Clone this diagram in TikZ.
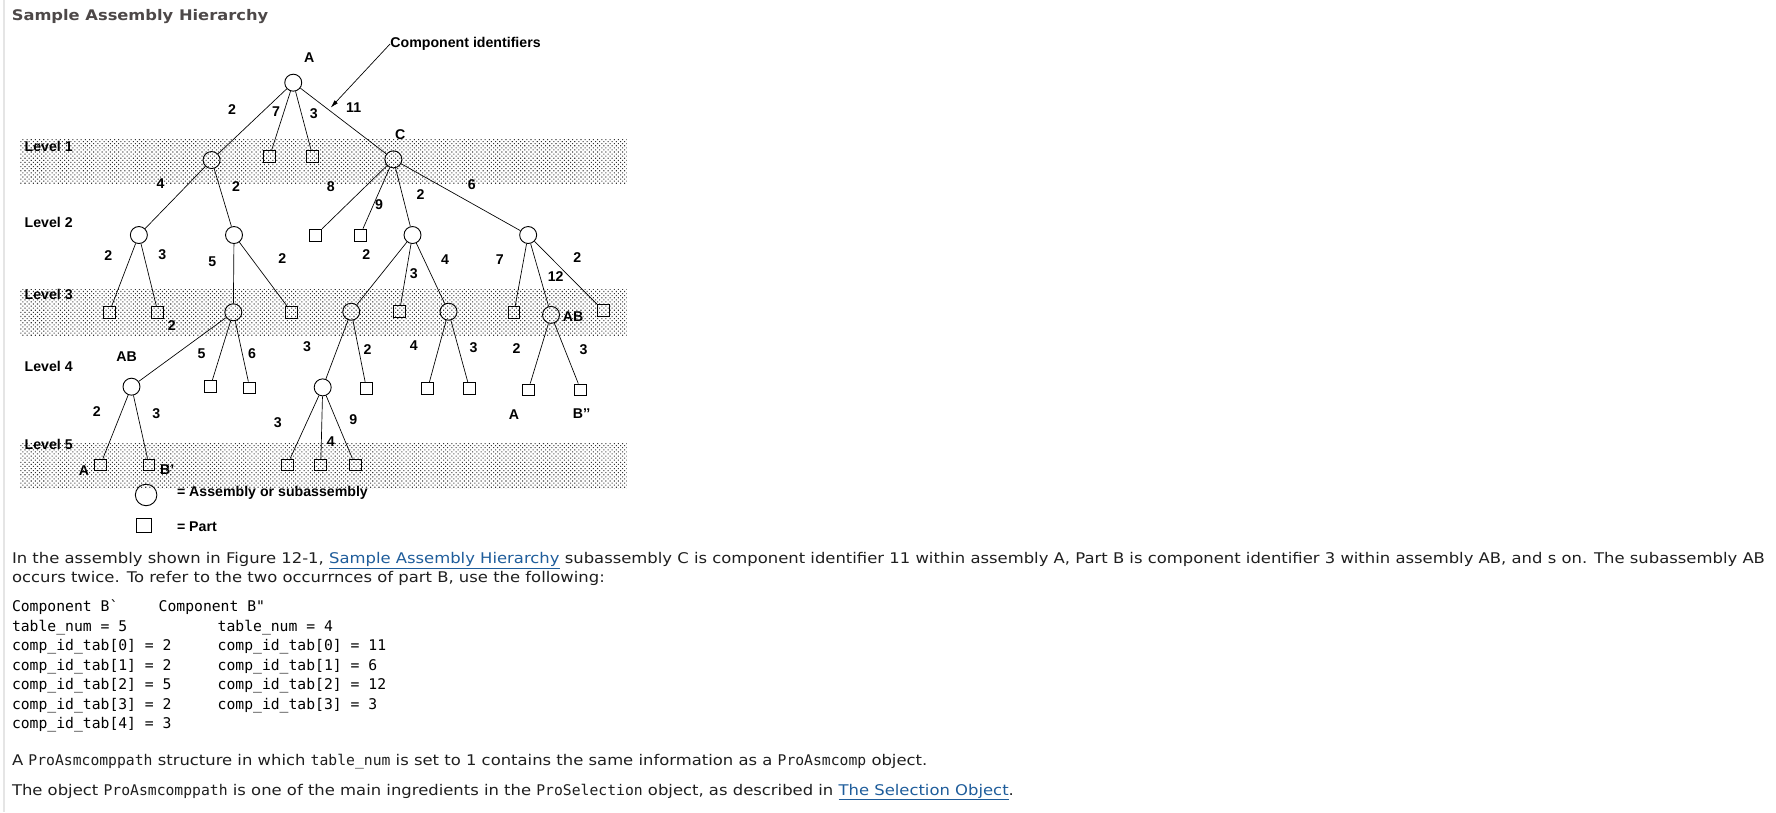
\documentclass[tikz,border=0pt]{standalone}
\usepackage{fontspec}
\setmainfont{DejaVu Sans}[FakeStretch=1.115]
\newfontfamily\figfont{Liberation Sans}
\newfontfamily\codefont{DejaVu Sans Mono}
\usetikzlibrary{patterns.meta,arrows.meta}

\definecolor{titlegray}{HTML}{4D4848}
\definecolor{linkblue}{HTML}{1F5D9B}
\newcommand{\lnk}[1]{\textcolor{linkblue}{\underline{#1}}}
\newcommand{\cd}[1]{{\codefont #1}}

\begin{document}
\begin{tikzpicture}[x=1pt, y=-1pt, line width=0.6pt,
  asm/.style={circle, draw, line width=0.8pt, minimum size=15pt, inner sep=0pt},
  part/.style={rectangle, draw, line width=0.8pt, minimum size=10.5pt, inner sep=0pt},
  lbl/.style={inner sep=0pt, font=\figfont\bfseries\fontsize{12.5}{14}\selectfont},
  lvl/.style={lbl, anchor=west},
  band/.style={pattern={Dots[distance=2.6pt, radius=0.65pt, angle=45]}, pattern color=black!80},
  body/.style={anchor=base west, inner sep=0pt, text=black!88, font=\fontsize{13}{16}\selectfont},
  code/.style={anchor=base west, inner sep=0pt, font=\codefont\fontsize{13}{16}\selectfont}]

\fill[white] (0,0) rectangle (1568,717);
\useasboundingbox (0,0) rectangle (1568,717);
\draw[black!10, line width=1.5pt] (3.5,0) -- (3.5,717);

\node[anchor=base west, inner sep=0pt, text=titlegray, font=\bfseries\fontsize{12.9}{16}\selectfont] (title) at (10.1,18.2) {Sample Assembly Hierarchy};

\fill[band] (17.3,123) rectangle (553.5,162);
\fill[band] (17.3,255.5) rectangle (553.5,296.6);
\fill[band] (17.3,390.5) rectangle (553.5,431);

\node[lvl] (lv1) at (21.5,129) {Level 1};
\node[lvl] (lv2) at (21.5,196.6) {Level 2};
\node[lvl] (lv3) at (21.5,260.4) {Level 3};
\node[lvl] (lv4) at (21.5,323.2) {Level 4};
\node[lvl] (lv5) at (21.5,392.8) {Level 5};

\node[asm] (A) at (258.9,73) {};
\node[lbl] (nA) at (273,50.6) {A};

\node[asm] (b1) at (186.8,141.3) {};
\node[part] (p1) at (238,138.3) {};
\node[part] (p2) at (276.2,138.3) {};
\node[asm] (C) at (347.3,140.7) {};
\node[lbl] (nC) at (353.4,118.6) {C};

\draw (A) -- (b1) node[lbl] (i01) at (204.8,96.5) {2};
\draw (A) -- (p1) node[lbl] (i02) at (243.8,98.6) {7};
\draw (A) -- (p2) node[lbl] (i03) at (277,100.6) {3};
\draw (A) -- (C) node[lbl] (i04) at (312.3,94.8) {11};

\node[lbl, anchor=west] (cid) at (344.4,38.8) {Component identifiers};
\coordinate (cidtip) at (292,95);
\draw[-{Latex[length=7pt,width=4pt]}] (cid.west) -- (cidtip);

\node[asm] (d1) at (122.6,207.5) {};
\node[asm] (d2) at (206.6,207.5) {};
\node[part] (p3) at (278.7,207.5) {};
\node[part] (p4) at (318,207.5) {};
\node[asm] (d3) at (364.2,207.5) {};
\node[asm] (d4) at (466.3,207.5) {};

\draw (b1) -- (d1) node[lbl] (i05) at (141.7,161.9) {4};
\draw (b1) -- (d2) node[lbl] (i06) at (208.4,164.8) {2};
\draw (C) -- (p3) node[lbl] (i07) at (292.1,164.8) {8};
\draw (C) -- (p4) node[lbl] (i08) at (334.6,181) {9};
\draw (C) -- (d3) node[lbl] (i09) at (371.4,172.2) {2};
\draw (C) -- (d4) node[lbl] (i10) at (416.5,163.3) {6};

\node[part] (p5) at (96.5,275.7) {};
\node[part] (p6) at (139.4,275.7) {};
\node[asm] (e1) at (206,275.7) {};
\node[part] (p7) at (257.5,275.7) {};
\node[asm] (e2) at (310.1,275.2) {};
\node[part] (p8) at (352.7,275.2) {};
\node[asm] (e3) at (396,275.2) {};
\node[part] (p9) at (453.8,276) {};
\node[asm] (e4) at (486.5,278) {};
\node[lbl] (nAB1) at (506,279.6) {AB};
\node[part] (p10) at (532.8,274.3) {};

\draw (d1) -- (p5) node[lbl] (i11) at (95.6,226) {2};
\draw (d1) -- (p6) node[lbl] (i12) at (143.3,224.5) {3};
\draw (d2) -- (e1) node[lbl] (i13) at (187.4,231) {5};
\draw (d2) -- (p7) node[lbl] (i14) at (249.2,228) {2};
\draw (d3) -- (e2) node[lbl] (i15) at (323.5,225) {2};
\draw (d3) -- (p8) node[lbl] (i16) at (365.3,242) {3};
\draw (d3) -- (e3) node[lbl] (i17) at (393,229.6) {4};
\draw (d4) -- (p9) node[lbl] (i18) at (441.2,229) {7};
\draw (d4) -- (e4) node[lbl] (i19) at (490.6,243.8) {12};
\draw (d4) -- (p10) node[lbl] (i20) at (509.6,227.6) {2};

\node[asm] (f1) at (116.1,341.4) {};
\node[lbl] (nAB2) at (111.8,315.2) {AB};
\node[part] (p11) at (185.7,341.4) {};
\node[part] (p12) at (220.5,342.5) {};
\node[asm] (f2) at (284.9,342) {};
\node[part] (p13) at (323.5,342.9) {};
\node[part] (p14) at (377.6,342.9) {};
\node[part] (p15) at (414.5,342.8) {};
\node[part] (p16) at (466.4,344.3) {};
\node[part] (p17) at (512.8,344.3) {};
\node[lbl] (nA2) at (453.8,366.4) {A};
\node[lbl] (nB2) at (513.5,365.5) {B’’};

\draw (e1) -- (f1) node[lbl] (i21) at (151.6,287) {2};
\draw (e1) -- (p11) node[lbl] (i22) at (178,312) {5};
\draw (e1) -- (p12) node[lbl] (i23) at (222.5,312.5) {6};
\draw (e2) -- (f2) node[lbl] (i24) at (271,306.3) {3};
\draw (e2) -- (p13) node[lbl] (i25) at (324.5,308.4) {2};
\draw (e3) -- (p14) node[lbl] (i26) at (365.3,305.5) {4};
\draw (e3) -- (p15) node[lbl] (i27) at (418,306.6) {3};
\draw (e4) -- (p16) node[lbl] (i28) at (456.1,307.5) {2};
\draw (e4) -- (p17) node[lbl] (i29) at (515.3,308.4) {3};

\node[part] (p18) at (88.6,410.5) {};
\node[part] (p19) at (131.5,410.5) {};
\node[part] (p20) at (253.6,410.5) {};
\node[part] (p21) at (283.2,410.5) {};
\node[part] (p22) at (313.5,410.5) {};
\node[lbl] (nA3) at (74.1,415.3) {A};
\node[lbl] (nB1) at (147.7,414.3) {B’};

\draw (f1) -- (p18) node[lbl] (i30) at (85.5,363.4) {2};
\draw (f1) -- (p19) node[lbl] (i31) at (138.1,365.5) {3};
\draw (f2) -- (p20) node[lbl] (i32) at (245.2,372.9) {3};
\draw (f2) -- (p21) node[lbl] (i33) at (292.1,390) {4};
\draw (f2) -- (p22) node[lbl] (i34) at (311.9,370.9) {9};

\node[asm, minimum size=19pt] (keyasm) at (129,437) {};
\node[part, minimum size=13pt] (keypart) at (127.2,464) {};
\node[lbl, anchor=west] (keyasmtxt) at (156,435.5) {= Assembly or subassembly};
\node[lbl, anchor=west] (keyparttxt) at (156,465) {= Part};

\node[body] (t1) at (10.3,497.3) {In the assembly shown in Figure 12-1, \lnk{Sample Assembly Hierarchy} subassembly C is component identifier 11 within assembly A, Part B is component identifier 3 within assembly AB, and s on. The subassembly AB};
\node[body] (t2) at (10.3,514.1) {occurs twice. To refer to the two occurrnces of part B, use the following:};

\node[code] (c1) at (10.3,540) {Component B`};
\node[code] (c2) at (10.3,557.25) {table\_num = 5};
\node[code] (c3) at (10.3,574.5) {comp\_id\_tab[0] = 2};
\node[code] (c4) at (10.3,591.75) {comp\_id\_tab[1] = 2};
\node[code] (c5) at (10.3,609) {comp\_id\_tab[2] = 5};
\node[code] (c6) at (10.3,626.25) {comp\_id\_tab[3] = 2};
\node[code] (c7) at (10.3,643.5) {comp\_id\_tab[4] = 3};

\node[code] (k1) at (139.8,540) {Component B"};
\node[code] (k2) at (191.9,557.25) {table\_num = 4};
\node[code] (k3) at (191.9,574.5) {comp\_id\_tab[0] = 11};
\node[code] (k4) at (191.9,591.75) {comp\_id\_tab[1] = 6};
\node[code] (k5) at (191.9,609) {comp\_id\_tab[2] = 12};
\node[code] (k6) at (191.9,626.25) {comp\_id\_tab[3] = 3};

\node[body] (t3) at (10.3,675.4) {A \cd{ProAsmcomppath} structure in which \cd{table\_num} is set to 1 contains the same information as a \cd{ProAsmcomp} object.};
\node[body] (t4) at (10.3,701.9) {The object \cd{ProAsmcomppath} is one of the main ingredients in the \cd{ProSelection} object, as described in \lnk{The Selection Object}.};

\end{tikzpicture}
\end{document}
